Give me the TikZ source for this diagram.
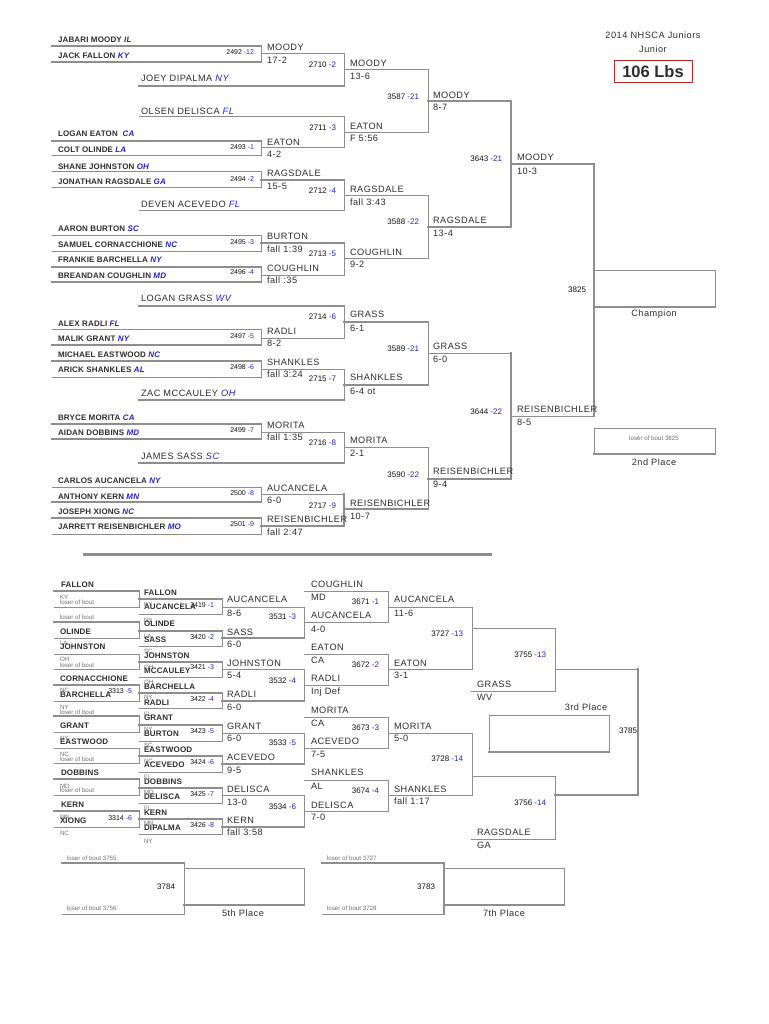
\documentclass[tikz,border=0pt]{standalone}
\usepackage{fontspec}
\setmainfont{Liberation Sans}
\newfontfamily\wfont[LetterSpace=5.5]{Liberation Sans}
\newfontfamily\nfont[LetterSpace=2]{Liberation Sans}
\definecolor{txt}{HTML}{2E2E2E}
\definecolor{bt}{HTML}{111111}
\definecolor{bl}{HTML}{2222CC}
\definecolor{ln}{HTML}{8E8E8E}
\definecolor{sm}{HTML}{707070}
\newcounter{lbl}
\tikzset{
  lt/.style={draw=ln,line width=1pt,line cap=rect},
  lk/.style={draw=ln,line width=1.6pt,line cap=rect},
  lab/.style={inner sep=0pt,outer sep=0pt,text=txt},
}
\newcommand{\tlab}[4]{\stepcounter{lbl}\node[lab,#1] (t\arabic{lbl}) at (#2,#3) {#4};}
% round-one name: x y name state
\newcommand{\nmA}[4]{\tlab{anchor=west}{#1}{#2}{\fontsize{8}{9}\nfont\bfseries #3 \textcolor{bl}{\itshape #4}}}
% larger entrant: x y name state
\newcommand{\nmB}[4]{\tlab{anchor=west}{#1}{#2}{\fontsize{9.2}{10}\wfont #3 \textcolor{bl}{\itshape #4}}}
% winner or score
\newcommand{\wn}[3]{\tlab{anchor=west}{#1}{#2}{\fontsize{9.2}{10}\wfont #3}}
% bold consolation name
\newcommand{\cn}[3]{\tlab{anchor=west}{#1}{#2}{\fontsize{8}{9}\nfont\bfseries #3}}
% small grey text
\newcommand{\smt}[3]{\tlab{anchor=west,text=sm}{#1}{#2}{\fontsize{6.2}{7}\selectfont #3}}
% bout numbers, right aligned
\newcommand{\bta}[4]{\tlab{anchor=east,text=bt}{#1}{#2}{\fontsize{7}{8}\selectfont #3 \textcolor{bl}{-#4}}}
\newcommand{\btb}[4]{\tlab{anchor=east,text=bt}{#1}{#2}{\fontsize{8}{9}\selectfont #3 \textcolor{bl}{-#4}}}
\newcommand{\btc}[3]{\tlab{anchor=east,text=bt}{#1}{#2}{\fontsize{8}{9}\selectfont #3}}
\newcommand{\ctr}[3]{\tlab{anchor=center}{#1}{#2}{\fontsize{9.2}{10}\wfont #3}}
\begin{document}
\begin{tikzpicture}[x=1pt,y=-1pt]
\useasboundingbox (0,0) rectangle (768,1024);
\fill[white] (0,0) rectangle (768,1024);
% ---- championship bracket lines, first round
\draw[lk] (52,46)--(261,46); \draw[lk] (52,62)--(261,62); \draw[lt] (261,46)--(261,62);
\draw[lk] (52,141)--(261,141); \draw[lt] (52,156)--(261,156); \draw[lt] (261,141)--(261,156);
\draw[lt] (52,172)--(261,172); \draw[lt] (52,188)--(261,188); \draw[lt] (261,172)--(261,188);
\draw[lt] (52,235)--(261,235); \draw[lt] (52,251)--(261,251); \draw[lt] (261,235)--(261,251);
\draw[lk] (52,267)--(261,267); \draw[lk] (52,282)--(261,282); \draw[lt] (261,267)--(261,282);
\draw[lt] (52,329)--(261,329); \draw[lk] (52,345)--(261,345); \draw[lt] (261,329)--(261,345);
\draw[lk] (52,361)--(261,361); \draw[lt] (52,377)--(261,377); \draw[lt] (261,361)--(261,377);
\draw[lk] (52,424)--(261,424); \draw[lk] (52,439)--(261,439); \draw[lt] (261,424)--(261,439);
\draw[lt] (52,487)--(261,487); \draw[lk] (52,502)--(261,502); \draw[lt] (261,487)--(261,502);
\draw[lk] (52,518)--(261,518); \draw[lt] (52,534)--(261,534); \draw[lt] (261,518)--(261,534);
% second round
\draw[lt] (261,54)--(344,54); \draw[lk] (139,86)--(344,86); \draw[lt] (344,54)--(344,86);
\draw[lt] (139,117)--(344,117); \draw[lt] (261,148)--(344,148); \draw[lt] (344,117)--(344,148);
\draw[lk] (261,180)--(344,180); \draw[lt] (139,211)--(344,211); \draw[lt] (344,180)--(344,211);
\draw[lk] (261,243)--(344,243); \draw[lt] (261,275)--(344,275); \draw[lt] (344,243)--(344,275);
\draw[lk] (139,306)--(344,306); \draw[lt] (261,338)--(344,338); \draw[lt] (344,306)--(344,338);
\draw[lt] (261,369)--(344,369); \draw[lk] (139,400)--(344,400); \draw[lt] (344,369)--(344,400);
\draw[lt] (261,432)--(344,432); \draw[lk] (139,463)--(344,463); \draw[lt] (344,432)--(344,463);
\draw[lt] (261,494)--(344,494); \draw[lk] (261,526)--(344,526); \draw[lk] (344,494)--(344,526);
% third round
\draw[lt] (344,70)--(428,70); \draw[lt] (344,133)--(428,133); \draw[lt] (428,70)--(428,133);
\draw[lt] (344,196)--(428,196); \draw[lt] (344,258)--(428,258); \draw[lt] (428,196)--(428,258);
\draw[lk] (344,322)--(428,322); \draw[lk] (344,385)--(428,385); \draw[lt] (428,322)--(428,385);
\draw[lt] (344,447)--(428,447); \draw[lk] (344,509)--(428,509); \draw[lt] (428,447)--(428,509);
% fourth, fifth
\draw[lk] (428,101)--(511,101); \draw[lk] (428,227)--(511,227); \draw[lk] (511,101)--(511,227);
\draw[lt] (428,353)--(511,353); \draw[lk] (428,479)--(511,479); \draw[lk] (511,353)--(511,479);
\draw[lk] (511,164)--(594,164); \draw[lt] (511,416)--(594,416); \draw[lk] (594,164)--(594,416);
% champion, second place
\draw[lt] (594,270)--(715,270)--(715,307); \draw[lk,line width=1.2pt] (594,307)--(715,307);
\draw[lt] (594,428)--(715,428)--(715,454); \draw[lk] (594,454)--(715,454); \draw[lt] (594,428)--(594,454);
% divider
\draw[draw=ln,line width=3pt] (83,554)--(492,554);
% ---- consolation lines
\foreach \a/\b/\k in {591/607/lk,622/638/lk,654/669/lt,685/701/lk,716/732/lk,748/763/lt,779/795/lk,811/827/lk}{
  \draw[\k] (54,\a)--(139,\a); \draw[lt] (54,\b)--(139,\b); \draw[lt] (139,\a)--(139,\b);}
\foreach \a/\b in {599/614,631/646,662/677,693/708,725/741,756/772,788/803,819/834}{
  \draw[lk] (139,\a)--(222,\a); \draw[lt] (139,\b)--(222,\b); \draw[lt] (222,\a)--(222,\b);}
\foreach \a/\b in {607/638,669/701,733/764,795/827}{
  \draw[lt] (222,\a)--(304,\a); \draw[lk] (222,\b)--(304,\b); \draw[lt] (304,\a)--(304,\b);}
\foreach \a/\b in {591/622,654/685,717/748,780/811}{
  \draw[lt] (304,\a)--(388,\a); \draw[lt] (304,\b)--(388,\b); \draw[lt] (388,\a)--(388,\b);}
\foreach \a/\b in {607/669,733/795}{
  \draw[lt] (388,\a)--(472,\a); \draw[lt] (388,\b)--(472,\b); \draw[lt] (472,\a)--(472,\b);}
\draw[lt] (472,628)--(555,628); \draw[lt] (471,691)--(555,691); \draw[lt] (555,628)--(555,691);
\draw[lt] (472,776)--(555,776); \draw[lt] (471,839)--(555,839); \draw[lt] (555,776)--(555,839);
\draw[lt] (555,669)--(638,669); \draw[lk] (555,795)--(638,795); \draw[lk] (638,669)--(638,795);
\draw[lt] (489,715)--(609,715)--(609,752); \draw[lt] (489,715)--(489,752); \draw[lk] (489,752)--(609,752);
% placement brackets
\draw[lk] (62,863)--(184,863); \draw[lt] (62,914)--(184,914); \draw[lt] (184,863)--(184,914);
\draw[lt] (184,868)--(304,868)--(304,905); \draw[lk] (184,905)--(304,905);
\draw[lk] (322,863)--(444,863); \draw[lt] (322,914)--(444,914); \draw[lk] (444,863)--(444,914);
\draw[lt] (444,868)--(564,868)--(564,905); \draw[lk] (444,905)--(564,905);
% ---- title
\ctr{653}{35}{2014 NHSCA Juniors}
\ctr{653}{49}{Junior}
\node[draw={rgb,255:red,190;green,40;blue,40},line width=1pt,minimum width=78pt,minimum height=22pt,inner sep=0pt,text=txt] (wt) at (653,72) {\fontsize{16.5}{18}\selectfont\bfseries 106 Lbs};
% ---- round-one entrants
\nmA{58}{40}{JABARI MOODY}{IL}
\nmA{58}{56}{JACK FALLON}{KY}
\nmA{58}{134}{LOGAN EATON }{CA}
\nmA{58}{150}{COLT OLINDE}{LA}
\nmA{58}{167}{SHANE JOHNSTON}{OH}
\nmA{58}{182}{JONATHAN RAGSDALE}{GA}
\nmA{58}{229}{AARON BURTON}{SC}
\nmA{58}{245}{SAMUEL CORNACCHIONE}{NC}
\nmA{58}{260}{FRANKIE BARCHELLA}{NY}
\nmA{58}{276}{BREANDAN COUGHLIN}{MD}
\nmA{58}{324}{ALEX RADLI}{FL}
\nmA{58}{339}{MALIK GRANT}{NY}
\nmA{58}{355}{MICHAEL EASTWOOD}{NC}
\nmA{58}{370}{ARICK SHANKLES}{AL}
\nmA{58}{418}{BRYCE MORITA}{CA}
\nmA{58}{433}{AIDAN DOBBINS}{MD}
\nmA{58}{481}{CARLOS AUCANCELA}{NY}
\nmA{58}{497}{ANTHONY KERN}{MN}
\nmA{58}{512}{JOSEPH XIONG}{NC}
\nmA{58}{527}{JARRETT REISENBICHLER}{MO}
% byes
\nmB{141}{78}{JOEY DIPALMA}{NY}
\nmB{141}{111}{OLSEN DELISCA}{FL}
\nmB{141}{204}{DEVEN ACEVEDO}{FL}
\nmB{141}{298}{LOGAN GRASS}{WV}
\nmB{141}{393}{ZAC MCCAULEY}{OH}
\nmB{141}{456}{JAMES SASS}{SC}
% bout numbers round one
\bta{254}{52}{2492}{12}
\bta{254}{147}{2493}{1}
\bta{254}{179}{2494}{2}
\bta{254}{242}{2495}{3}
\bta{254}{272}{2496}{4}
\bta{254}{336}{2497}{5}
\bta{254}{367}{2498}{6}
\bta{254}{430}{2499}{7}
\bta{254}{493}{2500}{8}
\bta{254}{524}{2501}{9}
% round two
\btb{336}{65}{2710}{2}
\btb{336}{128}{2711}{3}
\btb{336}{191}{2712}{4}
\btb{336}{254}{2713}{5}
\btb{336}{317}{2714}{6}
\btb{336}{379}{2715}{7}
\btb{336}{443}{2716}{8}
\btb{336}{506}{2717}{9}
\btb{419}{97}{3587}{21}
\btb{419}{222}{3588}{22}
\btb{419}{349}{3589}{21}
\btb{419}{475}{3590}{22}
\btb{502}{159}{3643}{21}
\btb{502}{412}{3644}{22}
\btc{586}{290}{3825}
% winners and scores
\wn{267}{47}{MOODY}\wn{267}{60}{17-2}
\wn{267}{142}{EATON}\wn{267}{154}{4-2}
\wn{267}{173}{RAGSDALE}\wn{267}{186}{15-5}
\wn{267}{236}{BURTON}\wn{267}{249}{fall 1:39}
\wn{267}{268}{COUGHLIN}\wn{267}{280}{fall :35}
\wn{267}{331}{RADLI}\wn{267}{343}{8-2}
\wn{267}{362}{SHANKLES}\wn{267}{374}{fall 3:24}
\wn{267}{425}{MORITA}\wn{267}{437}{fall 1:35}
\wn{267}{488}{AUCANCELA}\wn{267}{500}{6-0}
\wn{267}{519}{REISENBICHLER}\wn{267}{532}{fall 2:47}
\wn{350}{63}{MOODY}\wn{350}{76}{13-6}
\wn{350}{126}{EATON}\wn{350}{138}{F 5:56}
\wn{350}{189}{RAGSDALE}\wn{350}{202}{fall 3:43}
\wn{350}{252}{COUGHLIN}\wn{350}{264}{9-2}
\wn{350}{314}{GRASS}\wn{350}{328}{6-1}
\wn{350}{377}{SHANKLES}\wn{350}{391}{6-4 ot}
\wn{350}{440}{MORITA}\wn{350}{453}{2-1}
\wn{350}{503}{REISENBICHLER}\wn{350}{516}{10-7}
\wn{433}{95}{MOODY}\wn{433}{107}{8-7}
\wn{433}{220}{RAGSDALE}\wn{433}{233}{13-4}
\wn{433}{346}{GRASS}\wn{433}{359}{6-0}
\wn{433}{471}{REISENBICHLER}\wn{433}{484}{9-4}
\wn{517}{157}{MOODY}\wn{517}{171}{10-3}
\wn{517}{409}{REISENBICHLER}\wn{517}{422}{8-5}
\ctr{654}{314}{Champion}
\tlab{anchor=center,text=sm}{654}{438}{\fontsize{6.2}{7}\selectfont loser of bout 3825}
\ctr{654}{462}{2nd Place}
% ---- consolation column A
\cn{61}{585}{FALLON}\smt{60}{597}{KY}\smt{60}{602}{loser of bout}
\smt{60}{617}{loser of bout}\cn{60}{632}{OLINDE}\smt{60}{643}{LA}
\cn{60}{647}{JOHNSTON}\smt{60}{659}{OH}\smt{60}{665}{loser of bout}
\cn{60}{679}{CORNACCHIONE}\smt{60}{690}{NC}\cn{60}{695}{BARCHELLA}\smt{60}{707}{NY}\smt{60}{712}{loser of bout}
\bta{132}{691}{3313}{5}
\cn{60}{726}{GRANT}\smt{60}{738}{NY}\cn{60}{742}{EASTWOOD}\smt{60}{754}{NC}\smt{60}{759}{loser of bout}
\cn{61}{773}{DOBBINS}\smt{60}{786}{MD}\smt{60}{790}{loser of bout}
\cn{61}{805}{KERN}\smt{60}{817}{MN}\cn{60}{821}{XIONG}\smt{60}{833}{NC}
\bta{132}{818}{3314}{6}
% column B
\cn{144}{593}{FALLON}\smt{144}{604}{KY}\cn{144}{607}{AUCANCELA}
\smt{144}{620}{NY}\cn{144}{624}{OLINDE}\smt{144}{636}{LA}\cn{144}{640}{SASS}
\smt{144}{651}{SC}\cn{144}{656}{JOHNSTON}\smt{144}{667}{OH}\cn{144}{671}{MCCAULEY}
\smt{144}{682}{OH}\cn{144}{687}{BARCHELLA}\smt{144}{697}{NY}\cn{144}{703}{RADLI}
\smt{144}{714}{FL}\cn{144}{718}{GRANT}\smt{144}{729}{NY}\cn{144}{734}{BURTON}
\smt{144}{745}{SC}\cn{144}{750}{EASTWOOD}\smt{144}{761}{NC}\cn{144}{765}{ACEVEDO}
\smt{144}{777}{FL}\cn{144}{782}{DOBBINS}\smt{144}{792}{MD}\cn{144}{797}{DELISCA}
\smt{144}{808}{FL}\cn{144}{813}{KERN}\smt{144}{823}{MN}\cn{144}{828}{DIPALMA}
\smt{144}{841}{NY}
\bta{214}{605}{3419}{1}
\bta{214}{637}{3420}{2}
\bta{214}{667}{3421}{3}
\bta{214}{699}{3422}{4}
\bta{214}{731}{3423}{5}
\bta{214}{762}{3424}{6}
\bta{214}{794}{3425}{7}
\bta{214}{825}{3426}{8}
% column C
\wn{227}{599}{AUCANCELA}\wn{227}{613}{8-6}
\wn{227}{632}{SASS}\wn{227}{644}{6-0}
\wn{227}{663}{JOHNSTON}\wn{227}{675}{5-4}
\wn{227}{694}{RADLI}\wn{227}{707}{6-0}
\wn{227}{726}{GRANT}\wn{227}{738}{6-0}
\wn{227}{757}{ACEVEDO}\wn{227}{770}{9-5}
\wn{227}{789}{DELISCA}\wn{227}{802}{13-0}
\wn{227}{820}{KERN}\wn{227}{832}{fall 3:58}
\btb{296}{617}{3531}{3}
\btb{296}{681}{3532}{4}
\btb{296}{743}{3533}{5}
\btb{296}{807}{3534}{6}
% column D
\wn{311}{584}{COUGHLIN}\wn{311}{597}{MD}\wn{311}{615}{AUCANCELA}\wn{311}{629}{4-0}
\wn{311}{647}{EATON}\wn{311}{660}{CA}\wn{311}{678}{RADLI}\wn{311}{692}{Inj Def}
\wn{311}{710}{MORITA}\wn{311}{723}{CA}\wn{311}{741}{ACEVEDO}\wn{311}{754}{7-5}
\wn{311}{772}{SHANKLES}\wn{311}{786}{AL}\wn{311}{805}{DELISCA}\wn{311}{817}{7-0}
\btb{379}{602}{3671}{1}
\btb{379}{665}{3672}{2}
\btb{379}{728}{3673}{3}
\btb{379}{791}{3674}{4}
% column E
\wn{394}{599}{AUCANCELA}\wn{394}{613}{11-6}
\wn{394}{663}{EATON}\wn{394}{675}{3-1}
\wn{394}{726}{MORITA}\wn{394}{738}{5-0}
\wn{394}{789}{SHANKLES}\wn{394}{801}{fall 1:17}
\btb{463}{634}{3727}{13}
\btb{463}{759}{3728}{14}
\wn{477}{684}{GRASS}\wn{477}{697}{WV}
\wn{477}{832}{RAGSDALE}\wn{477}{845}{GA}
\btb{546}{655}{3755}{13}
\btb{546}{803}{3756}{14}
\btc{637}{731}{3785}
\ctr{586}{707}{3rd Place}
% placement
\smt{67}{858}{loser of bout 3755}
\smt{67}{908}{loser of bout 3756}
\btc{175}{887}{3784}
\ctr{243}{913}{5th Place}
\smt{327}{858}{loser of bout 3727}
\smt{327}{908}{loser of bout 3728}
\btc{435}{887}{3783}
\ctr{504}{913}{7th Place}
\end{tikzpicture}
\end{document}
